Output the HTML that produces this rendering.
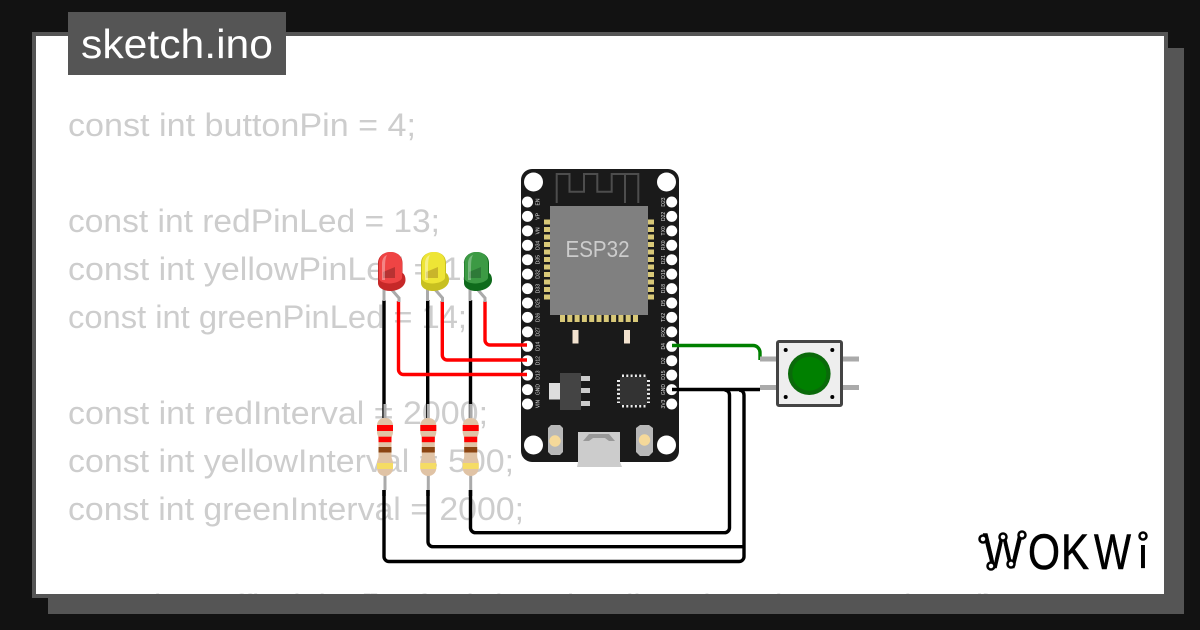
<!DOCTYPE html>
<html><head><meta charset="utf-8"><title>sketch.ino</title>
<style>html,body{margin:0;padding:0;background:#121212;width:1200px;height:630px;overflow:hidden}svg{display:block}
.c{font:32px "Liberation Sans",sans-serif;fill:#cdcdcd}
.p{font:5px "Liberation Sans",sans-serif;fill:#ddd;text-anchor:middle}
.w{fill:none;stroke-width:3.4;stroke-linejoin:round;stroke-linecap:butt}
.l{font:50px "Liberation Sans",sans-serif;fill:#000;stroke:#000;stroke-width:.6}
</style></head><body>
<svg xmlns="http://www.w3.org/2000/svg" width="1200" height="630" viewBox="0 0 1200 630">
<defs>
<g id="led-lead"><path d="M0 0V12M8 1L15 9V13" fill="none" stroke="#aaa" stroke-width="3"/></g>
<g id="res">
<rect x="-1.500" y="-14" width="3" height="86" fill="#aaa"/>
<path d="M-8 8C-8 2-4 0 0 0S8 2 8 8V14C8 17 6.500 18 6.500 21V38C6.500 41 8 42 8 45V50C8 55 4 58 0 58S-8 55-8 50V45C-8 42-6.500 41-6.500 38V21C-6.500 18-8 17-8 14Z" fill="#e0c3a5"/>
<rect x="-8" y="7" width="16" height="6" fill="#f00"/>
<rect x="-6.500" y="18.700" width="13" height="5.500" fill="#f00"/>
<rect x="-6.500" y="29" width="13" height="5.500" fill="#8b4513"/>
<rect x="-8" y="45" width="16" height="6" fill="#f5dc64"/>
</g>
</defs>
<rect width="1200" height="630" fill="#121212"/>
<rect x="48" y="48" width="1136" height="566" fill="#555"/>
<rect x="32" y="32" width="1136" height="566" fill="#555"/>
<rect x="36" y="36" width="1128" height="558" fill="#fff"/>
<clipPath id="cp"><rect x="36" y="36" width="1128" height="558"/></clipPath>
<g clip-path="url(#cp)">
<text class="c" x="68" y="136" textLength="348" lengthAdjust="spacingAndGlyphs">const int buttonPin = 4;</text>
<text class="c" x="68" y="232" textLength="372" lengthAdjust="spacingAndGlyphs">const int redPinLed = 13;</text>
<text class="c" x="68" y="280" textLength="422" lengthAdjust="spacingAndGlyphs">const int yellowPinLed = 12;</text>
<text class="c" x="68" y="328" textLength="399" lengthAdjust="spacingAndGlyphs">const int greenPinLed = 14;</text>
<text class="c" x="68" y="424" textLength="420" lengthAdjust="spacingAndGlyphs">const int redInterval = 2000;</text>
<text class="c" x="68" y="472" textLength="446" lengthAdjust="spacingAndGlyphs">const int yellowInterval = 500;</text>
<text class="c" x="68" y="520" textLength="456" lengthAdjust="spacingAndGlyphs">const int greenInterval = 2000;</text>
<text class="c" x="68" y="617" textLength="935" lengthAdjust="spacingAndGlyphs">const int trafficLights[] = {redPinLed, yellowPinLed, greenPinLed};</text>
</g>
<rect x="68" y="12" width="218" height="63" fill="#555"/>
<text x="81" y="58" textLength="192" lengthAdjust="spacingAndGlyphs" style="font:41px 'Liberation Sans',sans-serif" fill="#fff">sketch.ino</text>

<!-- board -->
<rect x="521" y="169" width="158" height="293" rx="11" fill="#1a1a1a"/>
<g fill="#fff">
<circle cx="533.500" cy="182" r="9.500"/><circle cx="666.500" cy="182" r="9.500"/><circle cx="533.500" cy="445" r="9.500"/><circle cx="666.500" cy="445" r="9.500"/>
<circle cx="527.500" cy="202" r="5.500"/><circle cx="527.500" cy="216.400" r="5.500"/><circle cx="527.500" cy="230.900" r="5.500"/><circle cx="527.500" cy="245.300" r="5.500"/><circle cx="527.500" cy="259.700" r="5.500"/><circle cx="527.500" cy="274.100" r="5.500"/><circle cx="527.500" cy="288.600" r="5.500"/><circle cx="527.500" cy="303" r="5.500"/><circle cx="527.500" cy="317.400" r="5.500"/><circle cx="527.500" cy="331.900" r="5.500"/><circle cx="527.500" cy="346.300" r="5.500"/><circle cx="527.500" cy="360.700" r="5.500"/><circle cx="527.500" cy="375.100" r="5.500"/><circle cx="527.500" cy="389.600" r="5.500"/><circle cx="527.500" cy="404" r="5.500"/>
<circle cx="671.700" cy="202" r="5.500"/><circle cx="671.700" cy="216.400" r="5.500"/><circle cx="671.700" cy="230.900" r="5.500"/><circle cx="671.700" cy="245.300" r="5.500"/><circle cx="671.700" cy="259.700" r="5.500"/><circle cx="671.700" cy="274.100" r="5.500"/><circle cx="671.700" cy="288.600" r="5.500"/><circle cx="671.700" cy="303" r="5.500"/><circle cx="671.700" cy="317.400" r="5.500"/><circle cx="671.700" cy="331.900" r="5.500"/><circle cx="671.700" cy="346.300" r="5.500"/><circle cx="671.700" cy="360.700" r="5.500"/><circle cx="671.700" cy="375.100" r="5.500"/><circle cx="671.700" cy="389.600" r="5.500"/><circle cx="671.700" cy="404" r="5.500"/>
</g>
<g>
<text class="p" transform="translate(539.500,202) rotate(-90)">EN</text><text class="p" transform="translate(539.500,216.400) rotate(-90)">VP</text><text class="p" transform="translate(539.500,230.900) rotate(-90)">VN</text><text class="p" transform="translate(539.500,245.300) rotate(-90)">D34</text><text class="p" transform="translate(539.500,259.700) rotate(-90)">D35</text><text class="p" transform="translate(539.500,274.100) rotate(-90)">D32</text><text class="p" transform="translate(539.500,288.600) rotate(-90)">D33</text><text class="p" transform="translate(539.500,303) rotate(-90)">D25</text><text class="p" transform="translate(539.500,317.400) rotate(-90)">D26</text><text class="p" transform="translate(539.500,331.900) rotate(-90)">D27</text><text class="p" transform="translate(539.500,346.300) rotate(-90)">D14</text><text class="p" transform="translate(539.500,360.700) rotate(-90)">D12</text><text class="p" transform="translate(539.500,375.100) rotate(-90)">D13</text><text class="p" transform="translate(539.500,389.600) rotate(-90)">GND</text><text class="p" transform="translate(539.500,404) rotate(-90)">VIN</text>
<text class="p" transform="translate(665,202) rotate(-90)">D23</text><text class="p" transform="translate(665,216.400) rotate(-90)">D22</text><text class="p" transform="translate(665,230.900) rotate(-90)">TX0</text><text class="p" transform="translate(665,245.300) rotate(-90)">RX0</text><text class="p" transform="translate(665,259.700) rotate(-90)">D21</text><text class="p" transform="translate(665,274.100) rotate(-90)">D19</text><text class="p" transform="translate(665,288.600) rotate(-90)">D18</text><text class="p" transform="translate(665,303) rotate(-90)">D5</text><text class="p" transform="translate(665,317.400) rotate(-90)">TX2</text><text class="p" transform="translate(665,331.900) rotate(-90)">RX2</text><text class="p" transform="translate(665,346.300) rotate(-90)">D4</text><text class="p" transform="translate(665,360.700) rotate(-90)">D2</text><text class="p" transform="translate(665,375.100) rotate(-90)">D15</text><text class="p" transform="translate(665,389.600) rotate(-90)">GND</text><text class="p" transform="translate(665,404) rotate(-90)">3V3</text>
</g>
<path d="M556.700 203V174H569.500V191.700H584V174H597.300V191.700H611.700V174H638.300V203M625 174V203" fill="none" stroke="#4d4d4d" stroke-width="2"/>
<g fill="#d8c878">
<rect x="544" y="219.500" width="6" height="5"/><rect x="544" y="227" width="6" height="5"/><rect x="544" y="234.500" width="6" height="5"/><rect x="544" y="242" width="6" height="5"/><rect x="544" y="249.500" width="6" height="5"/><rect x="544" y="257" width="6" height="5"/><rect x="544" y="264.500" width="6" height="5"/><rect x="544" y="272" width="6" height="5"/><rect x="544" y="279.500" width="6" height="5"/><rect x="544" y="287" width="6" height="5"/><rect x="544" y="294.500" width="6" height="5"/>
<rect x="648" y="219.500" width="6" height="5"/><rect x="648" y="227" width="6" height="5"/><rect x="648" y="234.500" width="6" height="5"/><rect x="648" y="242" width="6" height="5"/><rect x="648" y="249.500" width="6" height="5"/><rect x="648" y="257" width="6" height="5"/><rect x="648" y="264.500" width="6" height="5"/><rect x="648" y="272" width="6" height="5"/><rect x="648" y="279.500" width="6" height="5"/><rect x="648" y="287" width="6" height="5"/><rect x="648" y="294.500" width="6" height="5"/>
<rect x="560" y="315" width="5" height="7"/><rect x="567.300" y="315" width="5" height="7"/><rect x="574.600" y="315" width="5" height="7"/><rect x="581.900" y="315" width="5" height="7"/><rect x="589.200" y="315" width="5" height="7"/><rect x="596.500" y="315" width="5" height="7"/><rect x="603.800" y="315" width="5" height="7"/><rect x="611.100" y="315" width="5" height="7"/><rect x="618.400" y="315" width="5" height="7"/><rect x="625.700" y="315" width="5" height="7"/><rect x="633" y="315" width="5" height="7"/>
</g>
<rect x="550" y="206" width="98" height="109" fill="#808080"/>
<text x="597.500" y="257" text-anchor="middle" textLength="64" lengthAdjust="spacingAndGlyphs" style="font:23px 'Liberation Sans',sans-serif" fill="#ccc">ESP32</text>
<rect x="572.500" y="330" width="6" height="13.500" fill="#f3e3cf"/><rect x="624" y="330" width="6" height="13.500" fill="#f3e3cf"/>
<rect x="549" y="383" width="11" height="16.500" fill="#ddd"/>
<rect x="560" y="373" width="21" height="37" fill="#444"/>
<g fill="#ccc"><rect x="581" y="376" width="9" height="5"/><rect x="581" y="388" width="9" height="5"/><rect x="581" y="401" width="9" height="5"/></g>
<g stroke="#eee" stroke-width="3" stroke-dasharray="2 2.300" fill="none"><path d="M622 376H646M622 406H646M618.500 380V403M648.500 380V403"/></g>
<rect x="620" y="377" width="27" height="28" rx="2" fill="#333"/>
<path d="M548 428L551 425H560L563 428V452L560 455H551L548 452Z" fill="#b8b8b8"/>
<circle cx="555" cy="441" r="5.700" fill="#f5d99a"/>
<path d="M636 428L640 425H649L653 428V452L649 456H640L636 452Z" fill="#b8b8b8"/>
<circle cx="644.500" cy="440" r="5.700" fill="#f5d99a"/>
<path d="M578 432H620V462L622 467H577L578 462Z" fill="#ccc"/>
<path d="M583 441L589 434H609L615 441H609L605 438H593L589 441Z" fill="#999"/>

<!-- wires black -->
<g class="w" stroke="#000">
<path d="M384 300V418M384 490V556.500a5 5 0 0 0 5 5H739a5 5 0 0 0 5-5V395a5 5 0 0 0-5-5"/>
<path d="M427.700 300V418M428 490V541.700a5 5 0 0 0 5 5H744"/>
<path d="M470.500 300V418M470.500 490V527.700a5 5 0 0 0 5 5H724.500a5 5 0 0 0 5-5V395a5 5 0 0 0-5-5"/>
<path d="M672 389.500H760"/>
</g>
<!-- wires colored -->
<g class="w" stroke="#f00">
<path d="M398.500 301V369.500a5 5 0 0 0 5 5H527"/>
<path d="M442.300 301V355a5 5 0 0 0 5 5H527"/>
<path d="M485 301V340a5 5 0 0 0 5 5H527"/>
</g>
<path class="w" stroke="#008000" d="M672 345.500H753a7 7 0 0 1 7 7V360"/>

<!-- LEDs -->
<use href="#led-lead" x="384" y="289"/><use href="#led-lead" x="427.500" y="289"/><use href="#led-lead" x="470" y="289"/>
<g>
<path d="M378 279V263C378 256 384 252 390.500 252S402.500 256 402.500 263V273C404.500 274 405.500 277 405.500 280C405.500 286 399 291 390 291C384 291 378 288 378 283Z" fill="#c62828"/>
<path d="M379 279V263C379 256 384 252 390.500 252S402 256 402 263V278C400 284 382 286 379 279Z" fill="#ef4444"/>
<path d="M383 272L395 267V278H383Z" fill="#b83232"/>
<path d="M382 280V264C382 259 384 256 387 255C385 259 385 262 385 280Z" fill="#fff" opacity=".35"/>
</g>
<g>
<path d="M421 279V263C421 256 427 252 434 252S446 256 446 263V273C448 274 449 277 449 280C449 286 442 291 433 291C427 291 421 288 421 283Z" fill="#c8c020"/>
<path d="M422 279V263C422 256 427 252 434 252S445 256 445 263V278C443 284 425 286 422 279Z" fill="#eee535"/>
<path d="M426 272L438 267V278H426Z" fill="#c9b52a"/>
<path d="M425 280V264C425 259 427 256 430 255C428 259 428 262 428 280Z" fill="#fff" opacity=".4"/>
</g>
<g>
<path d="M464 279V263C464 256 470 252 476.500 252S489 256 489 263V273C491 274 492 277 492 280C492 286 485 291 476 291C470 291 464 288 464 283Z" fill="#0f6b1c"/>
<path d="M464.500 279V263C464.500 256 470 252 476.500 252S488 256 488 263V278C486 284 468 286 464.500 279Z" fill="#3c9a44"/>
<path d="M469 272L481 267V278H469Z" fill="#2e7a38"/>
<path d="M468 280V264C468 259 470 256 473 255C471 259 471 262 471 280Z" fill="#fff" opacity=".3"/>
</g>

<!-- resistors -->
<use href="#res" x="385" y="418"/><use href="#res" x="428.300" y="418"/><use href="#res" x="470.700" y="418"/>
<path class="w" stroke="#000" d="M384 490V496M428 490V496M470.500 490V496"/>

<!-- button -->
<g fill="#aaa">
<rect x="760" y="356.500" width="16" height="5"/><rect x="760" y="385" width="16" height="5"/>
<rect x="843" y="356.500" width="16" height="5"/><rect x="843" y="385" width="16" height="5"/>
</g>
<rect x="777.500" y="341.500" width="64" height="64" rx="1.500" fill="#eee" stroke="#444" stroke-width="3"/>
<circle cx="785.700" cy="350" r="2" fill="#000"/><circle cx="832.300" cy="350" r="2" fill="#000"/><circle cx="785.700" cy="397" r="2" fill="#000"/><circle cx="832.300" cy="397" r="2" fill="#000"/>
<circle cx="809.300" cy="373.700" r="21.300" fill="#0a6a0a"/>
<circle cx="809.300" cy="373.700" r="17" fill="#008000"/>

<!-- logo -->
<g>
<text class="l" x="983" y="568" textLength="40" lengthAdjust="spacingAndGlyphs">W</text>
<text class="l" x="1028" y="569" textLength="32" lengthAdjust="spacingAndGlyphs">O</text>
<text class="l" x="1061" y="569" textLength="28" lengthAdjust="spacingAndGlyphs">K</text>
<text class="l" x="1094" y="569" textLength="37" lengthAdjust="spacingAndGlyphs">W</text>
<text x="1138" y="568" textLength="10" lengthAdjust="spacingAndGlyphs" style="font:44px 'Liberation Sans',sans-serif" fill="#000">i</text>
</g>
<g fill="#fff" stroke="#000" stroke-width="2.500">
<circle cx="983" cy="539" r="3.500"/><circle cx="1003" cy="537" r="3.500"/><circle cx="1022" cy="535" r="3.500"/><circle cx="991" cy="566" r="3.500"/><circle cx="1011" cy="564" r="3.500"/><circle cx="1143" cy="536" r="3.500"/>
</g>
</svg>
</body></html>
